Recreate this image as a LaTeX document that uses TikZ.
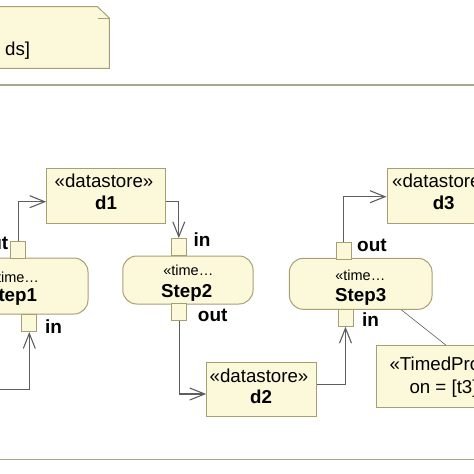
\documentclass[tikz,border=0pt]{standalone}
\usepackage{fontspec}
\setmainfont{Liberation Sans}
\usetikzlibrary{arrows.meta,calc}
\definecolor{fillc}{HTML}{FBF9DA}
\definecolor{bordc}{HTML}{A89E76}
\definecolor{linec}{HTML}{5E5E5E}
\definecolor{framec}{HTML}{A8A88C}
\begin{document}
\begin{tikzpicture}[x=1pt,y=-1pt,
 box/.style={draw=bordc,fill=fillc,line width=1pt,inner sep=0pt,rectangle},
 action/.style={box,rounded corners=14pt},
 pin/.style={box,minimum width=15pt,minimum height=17pt},
 stxt/.style={font=\fontsize{18.7}{22}\selectfont,inner sep=0pt},
 btxt/.style={font=\fontsize{18.7}{22}\selectfont\bfseries,inner sep=0pt},
 ttxt/.style={font=\fontsize{14.5}{17}\selectfont,inner sep=0pt},
 ptxt/.style={font=\fontsize{19}{22}\selectfont\bfseries,inner sep=0pt},
 flow/.style={draw=linec,line width=1.1pt,-{Straight Barb[length=15pt,width=12pt]}},
 anchorline/.style={draw=linec,line width=0.6pt},
 framel/.style={draw=framec,line width=1.2pt},
]
\useasboundingbox (0,0) rectangle (474,474);
\clip (0,0) rectangle (474,474);

% top note
\draw[box] (-5,6.7) -- (97.5,6.7) -- (109.3,18) -- (109.3,68.3) -- (-5,68.3) -- cycle;
\draw[draw=bordc,line width=1pt] (97.5,18) -- (109.3,18);
\node[stxt,anchor=base west] (topt) at (5,55) {ds]};

% frame lines
\draw[framel] (0,85) -- (474,85);
\draw[framel] (0,459.3) -- (474,459.3);

% datastores
\node[box,minimum width=119pt,minimum height=55pt] (d1) at (106.2,195.5) {};
\node[stxt] (d1s) at (104,181) {«datastore»};
\node[btxt] (d1n) at (106,203) {d1};

\node[box,minimum width=109.6pt,minimum height=54.4pt] (d2) at (261.5,389.5) {};
\node[stxt] (d2s) at (259,376) {«datastore»};
\node[btxt] (d2n) at (261,396.7) {d2};

\node[box,minimum width=119pt,minimum height=55pt] (d3) at (446.5,195.8) {};
\node[stxt,anchor=west] (d3s) at (392,181) {«datastore»};
\node[btxt] (d3n) at (443.7,203) {d3};

% actions
\node[action,minimum width=153pt,minimum height=56pt] (s1) at (11.5,286) {};
\node[ttxt] (s1s) at (14,277.7) {«time…};
\node[btxt] (s1n) at (11.5,296.7) {Step1};

\node[action,minimum width=130.3pt,minimum height=48pt] (s2) at (187.9,280) {};
\node[ttxt] (s2s) at (188.3,270.7) {«time…};
\node[btxt] (s2n) at (186.7,292.7) {Step2};

\node[action,minimum width=142.7pt,minimum height=51pt] (s3) at (360.7,283.8) {};
\node[ttxt] (s3s) at (360.3,275.7) {«time…};
\node[btxt] (s3n) at (360.7,296.7) {Step3};

% pins
\node[pin] (p1out) at (18.2,250) {};
\node[pin] (p1in) at (29.3,323) {};
\node[pin] (p2in) at (178.8,247.2) {};
\node[pin] (p2out) at (179.2,312.4) {};
\node[pin] (p3out) at (343.7,250.8) {};
\node[pin] (p3in) at (345.5,317.7) {};

% pin labels
\node[ptxt,anchor=base east] (l1out) at (8.5,249) {out};
\node[ptxt,anchor=base west] (l1in) at (45,333) {in};
\node[ptxt,anchor=base west] (l2in) at (193.3,246.7) {in};
\node[ptxt,anchor=base west] (l2out) at (197.7,321.7) {out};
\node[ptxt,anchor=base west] (l3out) at (357,251.7) {out};
\node[ptxt,anchor=base west] (l3in) at (362,326.7) {in};

% timed property note
\node[box,minimum width=150pt,minimum height=61.6pt] (noteT) at (451,376.5) {};
\node[stxt,anchor=west] (nts) at (389.3,365.7) {«TimedProperty»};
\node[stxt,anchor=west] (ntn) at (409.3,388.3) {on = [t3]};

% flows
\coordinate (ext) at (-10,389.3);
\draw[flow] (p1out.north) |- ([yshift=-6.2pt]d1.west);
\draw[flow] ([yshift=-6.2pt]d1.east) -| (p2in.north);
\draw[flow] (p2out.south) |- ([yshift=-4.5pt]d2.west);
\draw[flow] ([yshift=5.2pt]d2.east) -| (p3in.south);
\draw[flow] (p3out.north) |- ([yshift=-0.9pt]d3.west);
\draw[flow] (ext) -| (p1in.south);
\draw[anchorline] ([xshift=40.6pt]s3.south) -- ([xshift=-5pt]noteT.north);
\end{tikzpicture}
\end{document}
